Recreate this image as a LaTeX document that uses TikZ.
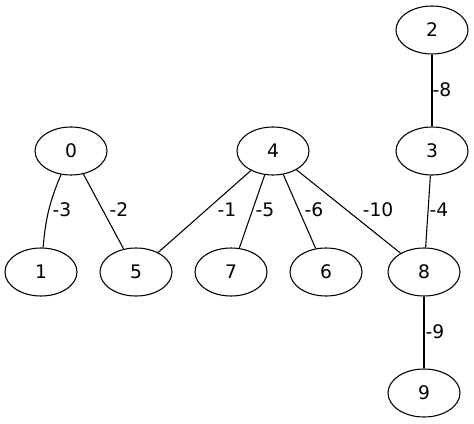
\documentclass[tikz,border=0pt]{standalone}
\usepackage{fontspec}
\setmainfont{DejaVu Sans}
\usetikzlibrary{shapes.geometric}
\begin{document}
\begin{tikzpicture}[x=0.75pt,y=-0.75pt,
  vert/.style={draw,ellipse,minimum width=54pt,minimum height=36pt,inner sep=0pt,line width=0.8pt,font=\fontsize{14pt}{16pt}\selectfont},
  conn/.style={line width=0.8pt},
  lbl/.style={inner sep=0pt,font=\fontsize{14pt}{16pt}\selectfont}]
\useasboundingbox (0,0) rectangle (474,424);
\node[vert] (n2) at (432,30) {2};
\node[vert] (n0) at (71,151) {0};
\node[vert] (n4) at (273,151) {4};
\node[vert] (n3) at (432,151) {3};
\node[vert] (n1) at (41,272) {1};
\node[vert] (n5) at (136,272) {5};
\node[vert] (n7) at (231,272) {7};
\node[vert] (n6) at (326,272) {6};
\node[vert] (n8) at (424,272) {8};
\node[vert] (n9) at (424,393) {9};
\draw[conn] (n2) -- (n3) node[lbl,at={(442,90)}] {-8};
\draw[conn] (n0) to[bend right=9] (n1) node[lbl,at={(62,210)}] {-3};
\draw[conn] (n0) -- (n5) node[lbl,at={(119,210)}] {-2};
\draw[conn] (n4) -- (n5) node[lbl,at={(227,210)}] {-1};
\draw[conn] (n4) -- (n7) node[lbl,at={(265,210)}] {-5};
\draw[conn] (n4) -- (n6) node[lbl,at={(314,210)}] {-6};
\draw[conn] (n4) -- (n8) node[lbl,at={(378,210)}] {-10};
\draw[conn] (n3) -- (n8) node[lbl,at={(439,210)}] {-4};
\draw[conn] (n8) -- (n9) node[lbl,at={(435,332)}] {-9};
\end{tikzpicture}
\end{document}
